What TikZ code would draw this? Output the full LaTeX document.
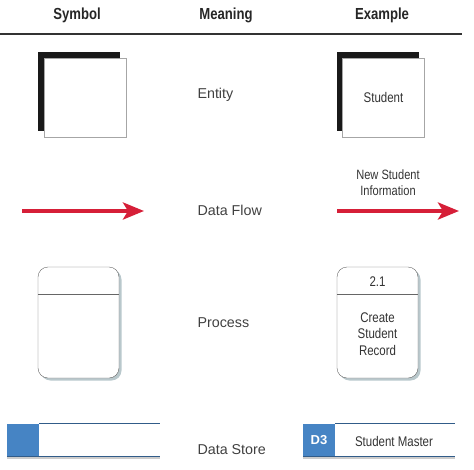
\documentclass[tikz,border=0pt]{standalone}
\usepackage{fontspec}
\setmainfont{Liberation Sans}
\newfontfamily\condfont[FakeStretch=0.82]{Liberation Sans}
\usepackage{tikz}
\usetikzlibrary{positioning, arrows.meta, shadows}

\definecolor{flowred}{RGB}{214,31,56}
\definecolor{storeblue}{RGB}{70,132,196}
\definecolor{procshade}{RGB}{185,200,204}
\definecolor{textgray}{RGB}{64,64,64}

\begin{document}
\begin{tikzpicture}[x=1pt, y=-1pt,
    head/.style={font=\condfont\bfseries\fontsize{16}{18}\selectfont, text=black!85},
    meaning/.style={anchor=west, font=\fontsize{14.3}{16}\selectfont, text=textgray},
    label/.style={font=\condfont\fontsize{14}{16.5}\selectfont, text=black!80, align=center},
    entity/.style={rectangle, draw=black!35, fill=white, minimum width=82pt, minimum height=79pt, inner sep=0pt,
        general shadow={fill=black!90, shadow xshift=-6pt, shadow yshift=6pt}},
    proc/.style={rectangle, rounded corners=10pt, draw=black!60, fill=white, minimum width=81pt, minimum height=111pt, inner sep=0pt,
        general shadow={fill=procshade, shadow xshift=2.5pt, shadow yshift=-2.5pt}},
    flow/.style={flowred, line width=4pt, -{Stealth[length=21pt, width=17pt, inset=5pt]}},
    storeid/.style={rectangle, fill=storeblue, minimum size=32pt, inner sep=0pt, text=white, font=\bfseries\fontsize{13}{15}\selectfont},
    storeline/.style={storeblue!70!black, line width=0.8pt}
  ]
  \useasboundingbox (0,0) rectangle (474,469);

  % column heads
  \node[head] (hsym) at (77,15) {Symbol};
  \node[head] (hmean) at (226,15) {Meaning};
  \node[head] (hex) at (382,15) {Example};
  \coordinate (rulel) at (0,34);
  \coordinate (ruler) at (462,34);
  \draw[line width=1.4pt, black!80] (rulel) -- (ruler);

  % entity
  \node[entity] (ent1) at (85,97.5) {};
  \node[meaning] (ment) at (194,95) {Entity};
  \node[entity, label] (ent2) at (383.5,97.5) {Student};

  % data flow
  \coordinate (fl1s) at (22,211);
  \coordinate (fl1e) at (144,211);
  \draw[flow] (fl1s) -- (fl1e);
  \node[meaning] (mflow) at (194,210) {Data Flow};
  \coordinate (fl2s) at (337,211);
  \coordinate (fl2e) at (459,211);
  \draw[flow] (fl2s) -- (fl2e);
  \node[label, font=\condfont\fontsize{13.5}{16}\selectfont] (fl2lab) at (388,183) {New Student\\Information};

  % process
  \node[proc] (proc1) at (78.5,322.5) {};
  \draw[black!60] (proc1.west |- 0,294) -- (proc1.east |- 0,294);
  \node[meaning] (mproc) at (194,323) {Process};
  \node[proc] (proc2) at (377.5,322.5) {};
  \draw[black!60] (proc2.west |- 0,294) -- (proc2.east |- 0,294);
  \node[label] (proc2id) at (377.5,282) {2.1};
  \node[label] (proc2name) at (377.5,334) {Create\\Student\\Record};

  % data store
  \node[storeid] (ds1id) at (23,440) {};
  \draw[storeline] (ds1id.north east) -- ++(121,0);
  \draw[black!20, line width=2pt] ([yshift=-1.5pt]ds1id.south west) -- ++(153,0);
  \draw[storeline, line width=1.2pt] (ds1id.south west) -- ++(153,0);
  \node[meaning] (mstore) at (194,450) {Data Store};
  \node[storeid] (ds2id) at (319,440) {D3};
  \draw[storeline] (ds2id.north east) -- ++(120,0);
  \draw[black!20, line width=2pt] ([yshift=-1.5pt]ds2id.south west) -- ++(152,0);
  \draw[storeline, line width=1.2pt] (ds2id.south west) -- ++(152,0);
  \node[label] (ds2name) at (394,441) {Student Master};
\end{tikzpicture}
\end{document}
